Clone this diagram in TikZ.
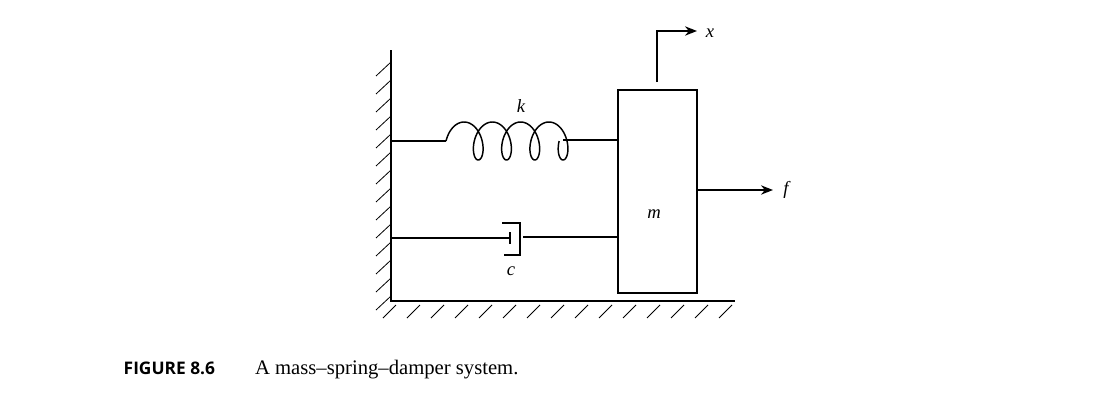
\documentclass[tikz,border=0pt]{standalone}
\usepackage{fontspec}
\setmainfont{Liberation Serif}
\newfontfamily\capsans{Open Sans}
\usetikzlibrary{arrows.meta}
\begin{document}
\begin{tikzpicture}[x=0.75pt,y=-0.75pt,line width=1.1pt,
  lbl/.style={font=\fontsize{14}{16}\selectfont\itshape,inner sep=0pt},
  hatch/.style={line width=0.6pt},
  arr/.style={-{Stealth[length=9pt,width=7pt]}}]
\useasboundingbox (0,0) rectangle (1114,418);
% wall and floor
\coordinate (wt) at (391,50);
\coordinate (wb) at (391,301);
\coordinate (fe) at (735,301);
\draw (wt) -- (wb) -- (fe);
\foreach \y in {62,80,...,300} \draw[hatch] (376,\y+14) -- (391,\y);
\foreach \x in {383,407,...,730} \draw[hatch] (\x,318) -- (\x+13,305);
% mass
\node[draw,line width=1.3pt,minimum width=79*0.75pt,minimum height=203*0.75pt,inner sep=0pt,anchor=north west] (m) at (617,89) {};
\node[lbl] (ml) at (654,214) {m};
% spring
\coordinate (s0) at (391,141);
\coordinate (s1) at (446,141);
\coordinate (s2) at (563,140);
\coordinate (s3) at (617,140);
\draw (s0) -- (s1);
\draw plot[domain=-1.5708:23.562,samples=260,variable=\t] ({464.1+4.5*\t+11*sin(\t r)},{141-19*cos(\t r)});
\draw (s2) -- (s3);
\node[lbl] (k) at (521,106) {k};
% damper
\coordinate (d0) at (391,238);
\coordinate (d1) at (510,238);
\coordinate (d2) at (523,237);
\coordinate (d3) at (617,237);
\draw (d0) -- (d1);
\draw (510,232) -- (510,244);
\draw (502,223) -- (520,223) -- (520,255) -- (504,255);
\draw (d2) -- (d3);
\node[lbl] (c) at (511,271) {c};
% force
\coordinate (f0) at (696,190);
\coordinate (f1) at (773,190);
\draw[arr] (f0) -- (f1);
\node[lbl] (f) at (786,190) {f};
% displacement
\coordinate (x0) at (657,82);
\coordinate (x1) at (657,31);
\coordinate (x2) at (697,31);
\draw[arr] (x0) -- (x1) -- (x2);
\node[lbl] (x) at (710,33) {x};
% caption
\node[anchor=west,inner sep=0pt] (cap) at (123,370) {{\capsans\bfseries\fontsize{13}{15}\selectfont FIGURE 8.6}\hspace{30pt}{\fontsize{15.5}{17}\selectfont A mass–spring–damper system.}};
\end{tikzpicture}
\end{document}
